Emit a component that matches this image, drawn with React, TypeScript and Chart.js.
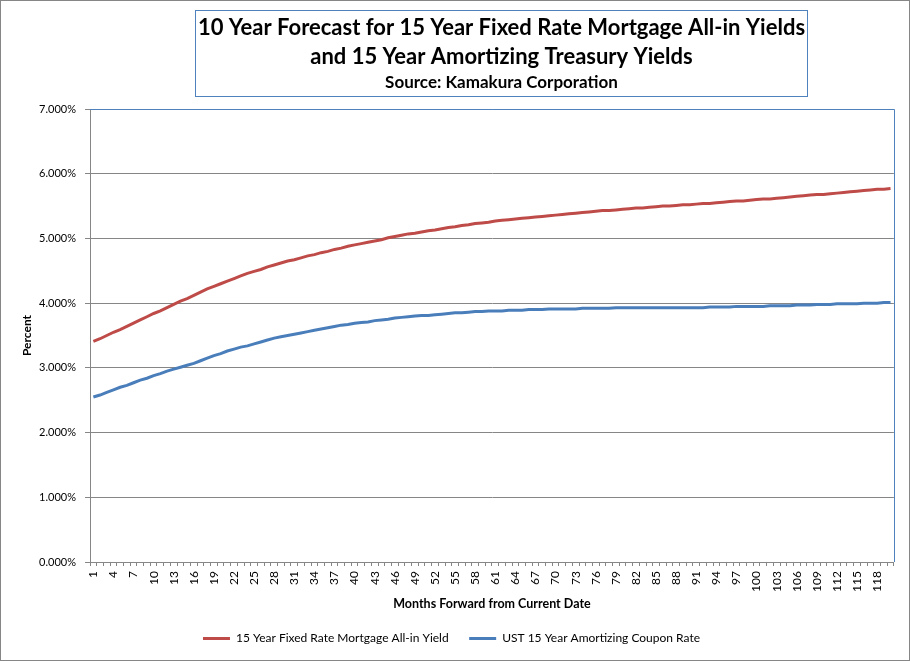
import React, { useEffect, useRef } from 'react';
import { Chart, registerables } from 'chart.js';

Chart.register(...registerables);

const titleLines = [
  '10 Year Forecast for 15 Year Fixed Rate Mortgage All-in Yields',
  'and 15 Year Amortizing Treasury Yields',
];
const subtitleText = 'Source: Kamakura Corporation';
const xAxisTitle = 'Months Forward from Current Date';
const yAxisTitle = 'Percent';
const mortgageLabel = '15 Year Fixed Rate Mortgage All-in Yield';
const treasuryLabel = 'UST 15 Year Amortizing Coupon Rate';

const months: string[] = Array.from({ length: 120 }, (_, i) => String(i + 1));

const mortgageYield: number[] = [
  3.41, 3.45, 3.50, 3.55, 3.59, 3.64, 3.69, 3.74, 3.79, 3.84,
  3.88, 3.93, 3.98, 4.03, 4.07, 4.12, 4.17, 4.22, 4.26, 4.30,
  4.34, 4.38, 4.42, 4.46, 4.49, 4.52, 4.56, 4.59, 4.62, 4.65,
  4.67, 4.70, 4.73, 4.75, 4.78, 4.80, 4.83, 4.85, 4.88, 4.90,
  4.92, 4.94, 4.96, 4.98, 5.01, 5.03, 5.05, 5.07, 5.08, 5.10,
  5.12, 5.13, 5.15, 5.17, 5.18, 5.20, 5.21, 5.23, 5.24, 5.25,
  5.27, 5.28, 5.29, 5.30, 5.31, 5.32, 5.33, 5.34, 5.35, 5.36,
  5.37, 5.38, 5.39, 5.40, 5.41, 5.42, 5.43, 5.43, 5.44, 5.45,
  5.46, 5.47, 5.47, 5.48, 5.49, 5.50, 5.50, 5.51, 5.52, 5.52,
  5.53, 5.54, 5.54, 5.55, 5.56, 5.57, 5.58, 5.58, 5.59, 5.60,
  5.61, 5.61, 5.62, 5.63, 5.64, 5.65, 5.66, 5.67, 5.68, 5.68,
  5.69, 5.70, 5.71, 5.72, 5.73, 5.74, 5.75, 5.76, 5.76, 5.77,
];

const treasuryYield: number[] = [
  2.55, 2.58, 2.62, 2.66, 2.70, 2.73, 2.77, 2.81, 2.84, 2.88,
  2.91, 2.95, 2.98, 3.01, 3.04, 3.07, 3.11, 3.15, 3.19, 3.22,
  3.26, 3.29, 3.32, 3.34, 3.37, 3.40, 3.43, 3.46, 3.48, 3.50,
  3.52, 3.54, 3.56, 3.58, 3.60, 3.62, 3.64, 3.66, 3.67, 3.69,
  3.70, 3.71, 3.73, 3.74, 3.75, 3.77, 3.78, 3.79, 3.80, 3.81,
  3.81, 3.82, 3.83, 3.84, 3.85, 3.85, 3.86, 3.87, 3.87, 3.88,
  3.88, 3.88, 3.89, 3.89, 3.89, 3.90, 3.90, 3.90, 3.91, 3.91,
  3.91, 3.91, 3.91, 3.92, 3.92, 3.92, 3.92, 3.92, 3.93, 3.93,
  3.93, 3.93, 3.93, 3.93, 3.93, 3.93, 3.93, 3.93, 3.93, 3.93,
  3.93, 3.93, 3.94, 3.94, 3.94, 3.94, 3.95, 3.95, 3.95, 3.95,
  3.95, 3.96, 3.96, 3.96, 3.96, 3.97, 3.97, 3.97, 3.98, 3.98,
  3.98, 3.99, 3.99, 3.99, 3.99, 4.00, 4.00, 4.00, 4.01, 4.01,
];

const RED = '#BE4B48';
const BLUE = '#4A7EBB';
const FRAME_BLUE = '#4F81BD';
const GRAY = '#868686';
const FONT = 'Lato, "Open Sans", sans-serif';

const TITLE_BOX = { left: 195.5, top: 10.5, width: 612, height: 86 };

const framePlugin = {
  id: 'frame',
  afterLayout(chart: any) {
    const l = TITLE_BOX.left;
    const r = TITLE_BOX.left + TITLE_BOX.width;
    (chart.boxes || []).forEach((box: any) => {
      const isTitle = box === chart.titleBlock;
      const isSub = box && box.options && box.options.text === subtitleText;
      if (isTitle || isSub) {
        box.left = l;
        box.right = r;
        box.width = r - l;
      }
    });
  },
  beforeDraw(chart: any) {
    const { ctx, width, height } = chart;
    ctx.save();
    ctx.fillStyle = '#fff';
    ctx.fillRect(0, 0, width, height);
    ctx.restore();
  },
  beforeDatasetsDraw(chart: any) {
    const { ctx, chartArea } = chart;
    const { left, top, right, bottom } = chartArea;
    ctx.save();
    ctx.strokeStyle = FRAME_BLUE;
    ctx.lineWidth = 1;
    ctx.beginPath();
    ctx.moveTo(left, Math.round(top) + 0.5);
    ctx.lineTo(Math.round(right) + 0.5, Math.round(top) + 0.5);
    ctx.lineTo(Math.round(right) + 0.5, bottom);
    ctx.stroke();
    ctx.restore();
  },
  afterDraw(chart: any) {
    const { ctx, width, height } = chart;
    ctx.save();
    ctx.lineWidth = 1;
    ctx.strokeStyle = FRAME_BLUE;
    ctx.strokeRect(TITLE_BOX.left, TITLE_BOX.top, TITLE_BOX.width, TITLE_BOX.height);
    ctx.strokeStyle = GRAY;
    ctx.strokeRect(0.5, 0.5, width - 1, height - 1);
    ctx.restore();
  },
};

export default function App() {
  const canvasRef = useRef<HTMLCanvasElement | null>(null);

  useEffect(() => {
    document.body.style.margin = '0';
    const canvas = canvasRef.current;
    if (!canvas) return;
    Chart.defaults.font.family = FONT;
    const chart = new Chart(canvas, {
      type: 'line',
      data: {
        labels: months,
        datasets: [
          {
            label: mortgageLabel,
            data: mortgageYield,
            borderColor: RED,
            backgroundColor: RED,
            borderWidth: 3,
            pointRadius: 0,
            tension: 0,
          },
          {
            label: treasuryLabel,
            data: treasuryYield,
            borderColor: BLUE,
            backgroundColor: BLUE,
            borderWidth: 3,
            pointRadius: 0,
            tension: 0,
          },
        ],
      },
      options: {
        responsive: false,
        animation: false,
        devicePixelRatio: 1,
        layout: { padding: { left: 8, right: 15, top: 0, bottom: 6.5 } },
        plugins: {
          title: {
            display: true,
            text: titleLines,
            color: '#000',
            font: { family: FONT, size: 22, weight: 'bold', lineHeight: '29px' },
            padding: { top: 13.5, bottom: 0 },
          },
          subtitle: {
            display: true,
            text: subtitleText,
            color: '#000',
            font: { family: FONT, size: 17, weight: 'bold', lineHeight: '19px' },
            padding: { top: 2, bottom: 16.5 },
          },
          legend: {
            position: 'bottom',
            labels: {
              color: '#000',
              font: { family: FONT, size: 12 },
              boxWidth: 27,
              boxHeight: 3,
              padding: 20.5,
              generateLabels: (c: any) =>
                Chart.defaults.plugins.legend.labels
                  .generateLabels(c)
                  .map((l: any) => ({ ...l, lineWidth: 0 })),
            },
          },
          tooltip: { enabled: false },
        },
        scales: {
          x: {
            type: 'category',
            offset: true,
            afterFit: (scale: any) => {
              scale.height = 50;
            },
            grid: {
              display: true,
              drawOnChartArea: false,
              drawTicks: true,
              tickLength: 4,
              offset: true,
              color: GRAY,
            },
            border: { display: true, color: GRAY },
            ticks: {
              autoSkip: false,
              minRotation: 90,
              maxRotation: 90,
              padding: 5,
              color: '#000',
              font: { family: FONT, size: 12 },
              callback: (_v: any, idx: number) => (idx % 3 === 0 ? months[idx] : ''),
            },
            title: {
              display: true,
              text: xAxisTitle,
              color: '#000',
              font: { family: FONT, size: 12.5, weight: 'bold', lineHeight: '16px' },
              padding: { top: 0, bottom: 0 },
            },
          },
          y: {
            min: 0,
            max: 7,
            afterFit: (scale: any) => {
              scale.width = 82;
            },
            grid: {
              color: GRAY,
              lineWidth: 1,
              drawTicks: true,
              tickLength: 5,
            },
            border: { display: true, color: GRAY },
            ticks: {
              stepSize: 1,
              padding: 9,
              color: '#000',
              font: { family: FONT, size: 11 },
              callback: (v: any) => Number(v).toFixed(3) + '%',
            },
            title: {
              display: true,
              text: yAxisTitle,
              color: '#000',
              font: { family: FONT, size: 12, weight: 'bold', lineHeight: '14px' },
              padding: { top: 12, bottom: 0 },
            },
          },
        },
      },
      plugins: [framePlugin],
    } as any);
    return () => chart.destroy();
  }, []);

  return (
    <div style={{ width: 910, height: 661 }}>
      <canvas ref={canvasRef} width={910} height={661} style={{ display: 'block' }} />
    </div>
  );
}
